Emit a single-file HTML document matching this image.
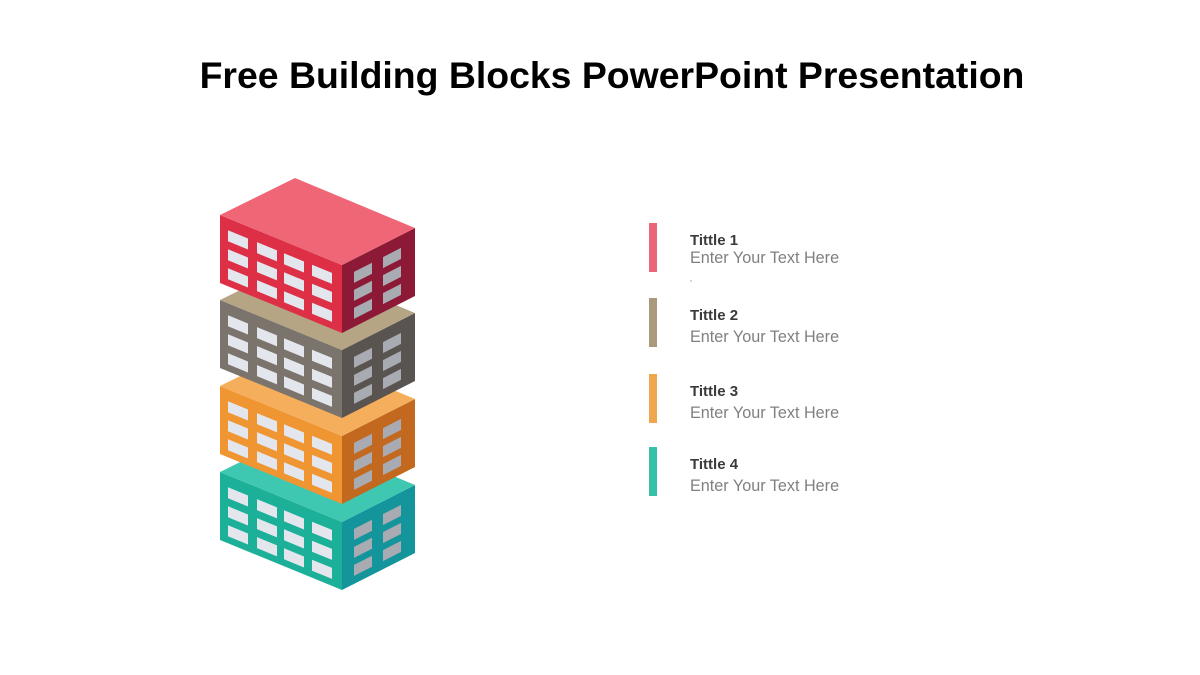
<!DOCTYPE html>
<html><head><meta charset="utf-8"><style>
html,body{margin:0;padding:0;background:#fff;}
svg{display:block;}
</style></head><body>
<svg width="1200" height="675" viewBox="0 0 1200 675" xmlns="http://www.w3.org/2000/svg">
<text x="612" y="88" text-anchor="middle" font-family="Liberation Sans, sans-serif" font-weight="bold" font-size="37.4" fill="#000">Free Building Blocks PowerPoint Presentation</text>
<defs>
<g id="fw" fill="#e4e6ee">
 <rect x="8" y="12" width="20" height="11"/><rect x="37" y="12" width="20" height="11"/><rect x="64" y="12" width="20" height="11"/><rect x="92" y="12" width="20" height="11"/>
 <rect x="8" y="31" width="20" height="11"/><rect x="37" y="31" width="20" height="11"/><rect x="64" y="31" width="20" height="11"/><rect x="92" y="31" width="20" height="11"/>
 <rect x="8" y="50" width="20" height="11"/><rect x="37" y="50" width="20" height="11"/><rect x="64" y="50" width="20" height="11"/><rect x="92" y="50" width="20" height="11"/>
</g>
<g id="rw" fill="#a9abb2">
 <rect x="12" y="13" width="18" height="11"/><rect x="41" y="13" width="18" height="11"/>
 <rect x="12" y="31" width="18" height="11"/><rect x="41" y="31" width="18" height="11"/>
 <rect x="12" y="49" width="18" height="11"/><rect x="41" y="49" width="18" height="11"/>
</g>
</defs>
<g transform="translate(0,257)">
 <polygon points="220,215 342,265 342,333 220,283" fill="#1cb099"/>
 <polygon points="342,265 415,228 415,296 342,333" fill="#14959c"/>
 <polygon points="295,178 415,228 342,265 220,215" fill="#3ec8b2"/>
 <use href="#fw" transform="matrix(1,0.41,0,1,220,215)"/>
 <use href="#rw" transform="matrix(1,-0.51,0,1,342,265)"/>
</g>
<g transform="translate(0,171)">
 <polygon points="220,215 342,265 342,333 220,283" fill="#ef9532"/>
 <polygon points="342,265 415,228 415,296 342,333" fill="#c2691f"/>
 <polygon points="295,178 415,228 342,265 220,215" fill="#f4ae5c"/>
 <use href="#fw" transform="matrix(1,0.41,0,1,220,215)"/>
 <use href="#rw" transform="matrix(1,-0.51,0,1,342,265)"/>
</g>
<g transform="translate(0,85)">
 <polygon points="220,215 342,265 342,333 220,283" fill="#7b746d"/>
 <polygon points="342,265 415,228 415,296 342,333" fill="#5a5450"/>
 <polygon points="295,178 415,228 342,265 220,215" fill="#b5a585"/>
 <use href="#fw" transform="matrix(1,0.41,0,1,220,215)"/>
 <use href="#rw" transform="matrix(1,-0.51,0,1,342,265)"/>
</g>
<g>
 <polygon points="220,215 342,265 342,333 220,283" fill="#dd2f46"/>
 <polygon points="342,265 415,228 415,296 342,333" fill="#8c1a36"/>
 <polygon points="295,178 415,228 342,265 220,215" fill="#ef6677"/>
 <use href="#fw" transform="matrix(1,0.41,0,1,220,215)"/>
 <use href="#rw" transform="matrix(1,-0.51,0,1,342,265)"/>
</g>
<g font-family="Liberation Sans, sans-serif">
 <rect x="649" y="223" width="8" height="49" fill="#e96678"/>
 <text x="690" y="245" font-size="15" font-weight="bold" fill="#3a3a3a">Tittle 1</text>
 <text x="690" y="263" font-size="16.2" fill="#808080">Enter Your Text Here</text>
 <circle cx="691" cy="281" r="0.7" fill="#999"/>
 <rect x="649" y="298" width="8" height="49" fill="#aa9a7b"/>
 <text x="690" y="320" font-size="15" font-weight="bold" fill="#3a3a3a">Tittle 2</text>
 <text x="690" y="342" font-size="16.2" fill="#808080">Enter Your Text Here</text>
 <rect x="649" y="374" width="8" height="49" fill="#f0a64d"/>
 <text x="690" y="396" font-size="15" font-weight="bold" fill="#3a3a3a">Tittle 3</text>
 <text x="690" y="418" font-size="16.2" fill="#808080">Enter Your Text Here</text>
 <rect x="649" y="447" width="8" height="49" fill="#38c0a9"/>
 <text x="690" y="469" font-size="15" font-weight="bold" fill="#3a3a3a">Tittle 4</text>
 <text x="690" y="491" font-size="16.2" fill="#808080">Enter Your Text Here</text>
</g>
</svg>
</body></html>
